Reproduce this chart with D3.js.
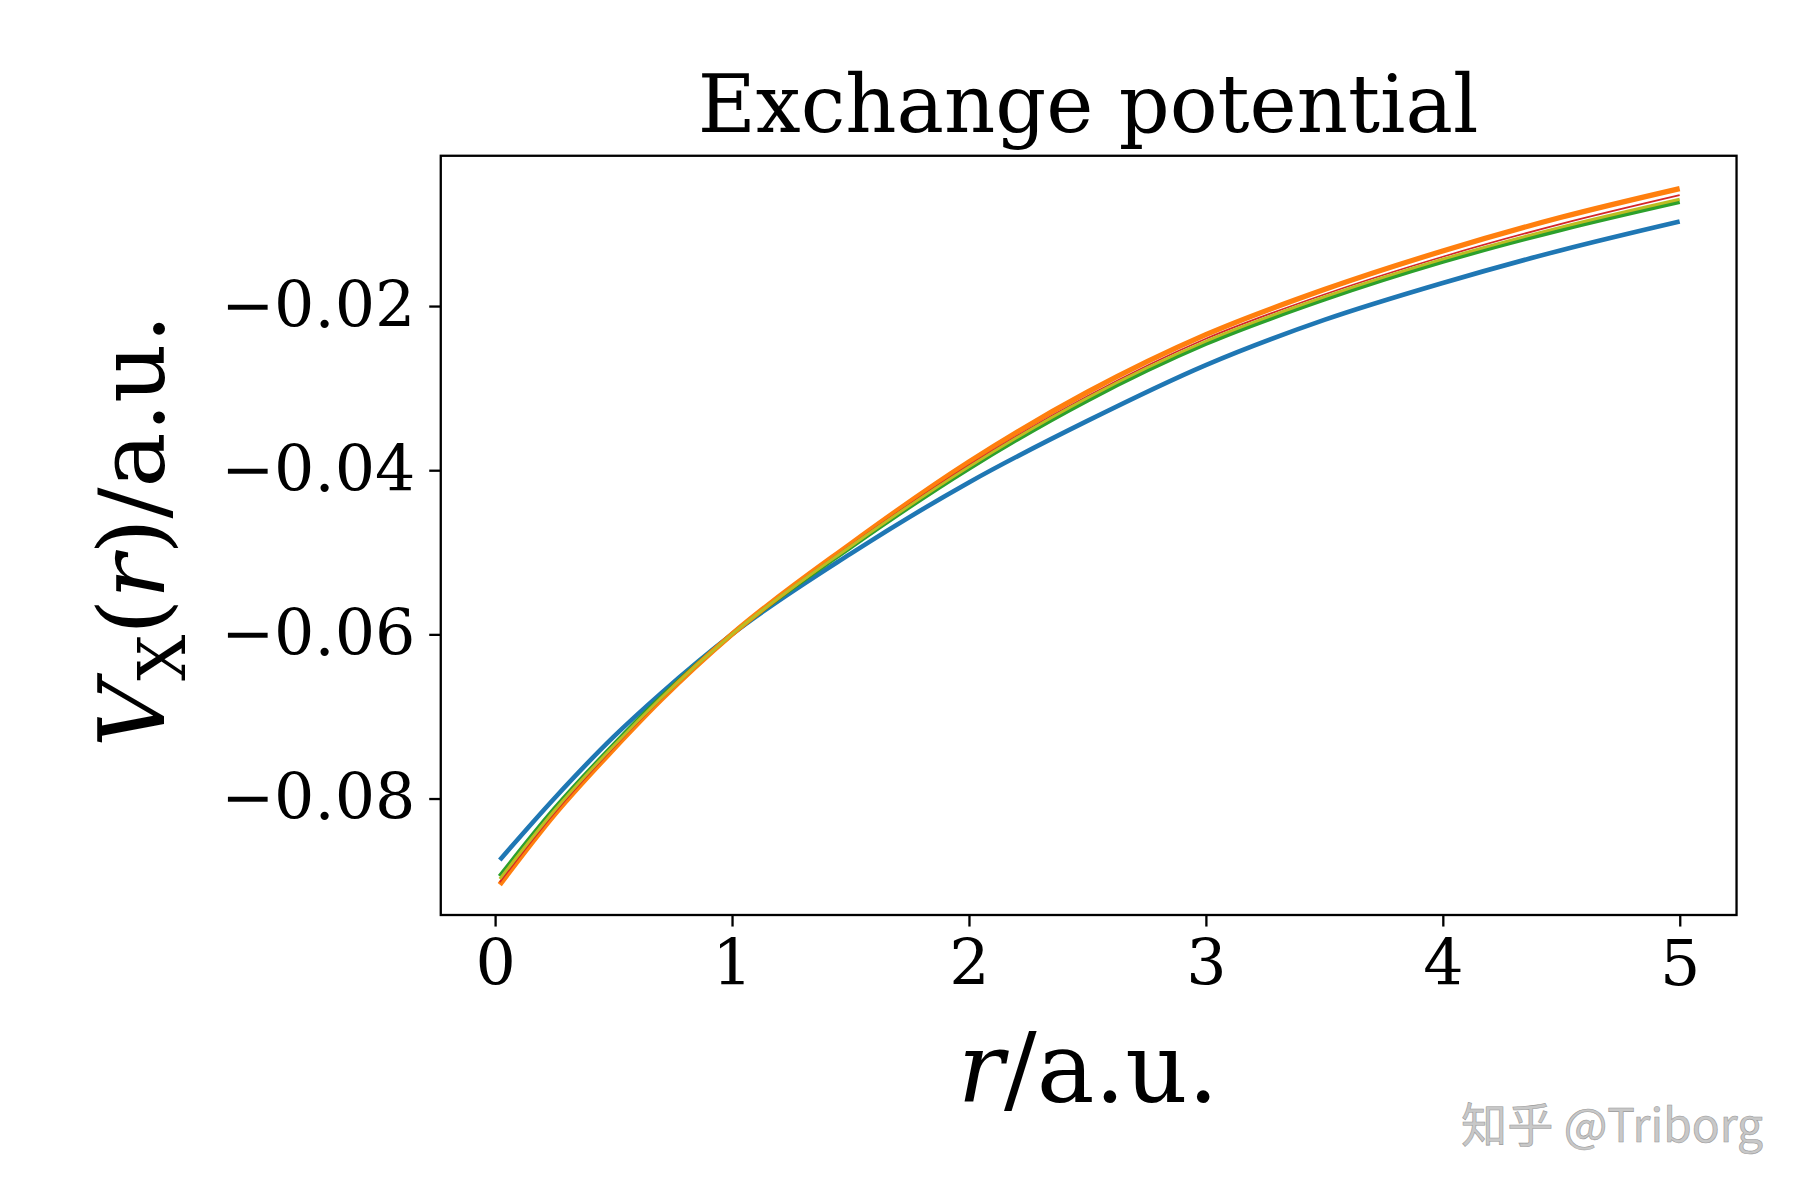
<!DOCTYPE html>
<html><head><meta charset="utf-8">
<script src="https://cdn.jsdelivr.net/npm/d3@7"></script>
<style>body{margin:0;background:#fff}</style></head>
<body><svg id="c" width="1800" height="1200" viewBox="0 0 1560 1040"></svg>
<script>
const rValues = [0.02,0.25,0.5,0.7,1,1.5,2,2.5,3,3.5,4,4.5,5];
const seriesBlue   = [-0.0875,-0.0800,-0.0725,-0.0672,-0.0600,-0.0502,-0.0415,-0.0340,-0.0272,-0.0217,-0.0172,-0.0132,-0.0097];
const seriesOlive  = [-0.0898,-0.0815,-0.0736,-0.0678,-0.0600,-0.0493,-0.0396,-0.0312,-0.0243,-0.0189,-0.0143,-0.0104,-0.0070];
const seriesGreen  = [-0.0895,-0.0813,-0.0735,-0.0677,-0.0600,-0.0494,-0.0398,-0.0315,-0.0246,-0.0192,-0.0146,-0.0107,-0.0073];
const seriesRed    = [-0.0902,-0.0818,-0.0738,-0.0679,-0.0600,-0.0492,-0.0394,-0.0310,-0.0240,-0.0186,-0.0140,-0.0100,-0.0065];
const seriesOrange = [-0.0905,-0.0820,-0.0740,-0.0680,-0.0600,-0.0490,-0.0390,-0.0305,-0.0235,-0.0180,-0.0133,-0.0092,-0.0057];
const xTicks = [0,1,2,3,4,5];
const yTicks = [-0.08,-0.06,-0.04,-0.02];

const svg = d3.select("#c");
const L=382,R=1505,T=135,B=793;
const x = d3.scaleLinear().domain([-0.229,5.24]).range([L,R]);
const y = d3.scaleLinear().domain([-0.0942,-0.0017]).range([B,T]);
const font = "DejaVu Serif, serif";

const series = [
 {v:seriesBlue,c:"#1f77b4",w:4},
 {v:seriesGreen,c:"#2ca02c",w:4},
 {v:seriesOrange,c:"#ff7f0e",w:4.5},
 {v:seriesRed,c:"#d62728",w:1.5},
 {v:seriesOlive,c:"#bcbd22",w:2.5}
];
const line = d3.line().x((d,i)=>x(rValues[i])).y(d=>y(d)).curve(d3.curveMonotoneX);
series.forEach(s=>svg.append("path").attr("d",line(s.v)).attr("fill","none").attr("stroke",s.c).attr("stroke-width",s.w));

svg.append("rect").attr("x",L).attr("y",T).attr("width",R-L).attr("height",B-T).attr("fill","none").attr("stroke","#000").attr("stroke-width",2);

const xa = svg.append("g").attr("transform",`translate(0,${B})`).call(d3.axisBottom(x).tickValues(xTicks).tickSize(10).tickPadding(12).tickFormat(d3.format("d")));
const ya = svg.append("g").attr("transform",`translate(${L},0)`).call(d3.axisLeft(y).tickValues(yTicks).tickSize(10).tickPadding(12).tickFormat(d=>"\u2212"+Math.abs(d).toFixed(2)));
[xa,ya].forEach(a=>{a.select(".domain").remove();a.selectAll("line").attr("stroke-width",2);a.selectAll("text").attr("font-family",font).attr("font-size",55).attr("fill","#000");});

svg.append("text").attr("x",943).attr("y",114).attr("text-anchor","middle").attr("font-family",font).attr("font-size",69).text("Exchange potential");
const xl = svg.append("text").attr("x",943).attr("y",955).attr("text-anchor","middle").attr("font-family",font).attr("font-size",84);
xl.append("tspan").attr("font-style","italic").text("r");
xl.append("tspan").text("/a.u.");
const yl = svg.append("text").attr("transform","translate(142,460) rotate(-90)").attr("text-anchor","middle").attr("font-family",font).attr("font-size",80);
yl.append("tspan").attr("font-style","italic").text("V");
yl.append("tspan").attr("font-size",56).attr("dy",18).text("X");
yl.append("tspan").attr("dy",-18).text("(");
yl.append("tspan").attr("font-style","italic").text("r");
yl.append("tspan").text(")/a.u.");
svg.append("text").attr("x",1528).attr("y",990).attr("text-anchor","end").attr("font-family","Noto Sans CJK SC, sans-serif").attr("font-size",40).attr("fill","#c8c8c8").attr("stroke","#999").attr("stroke-width",0.5).text("知乎 @Triborg");
</script></body></html>
